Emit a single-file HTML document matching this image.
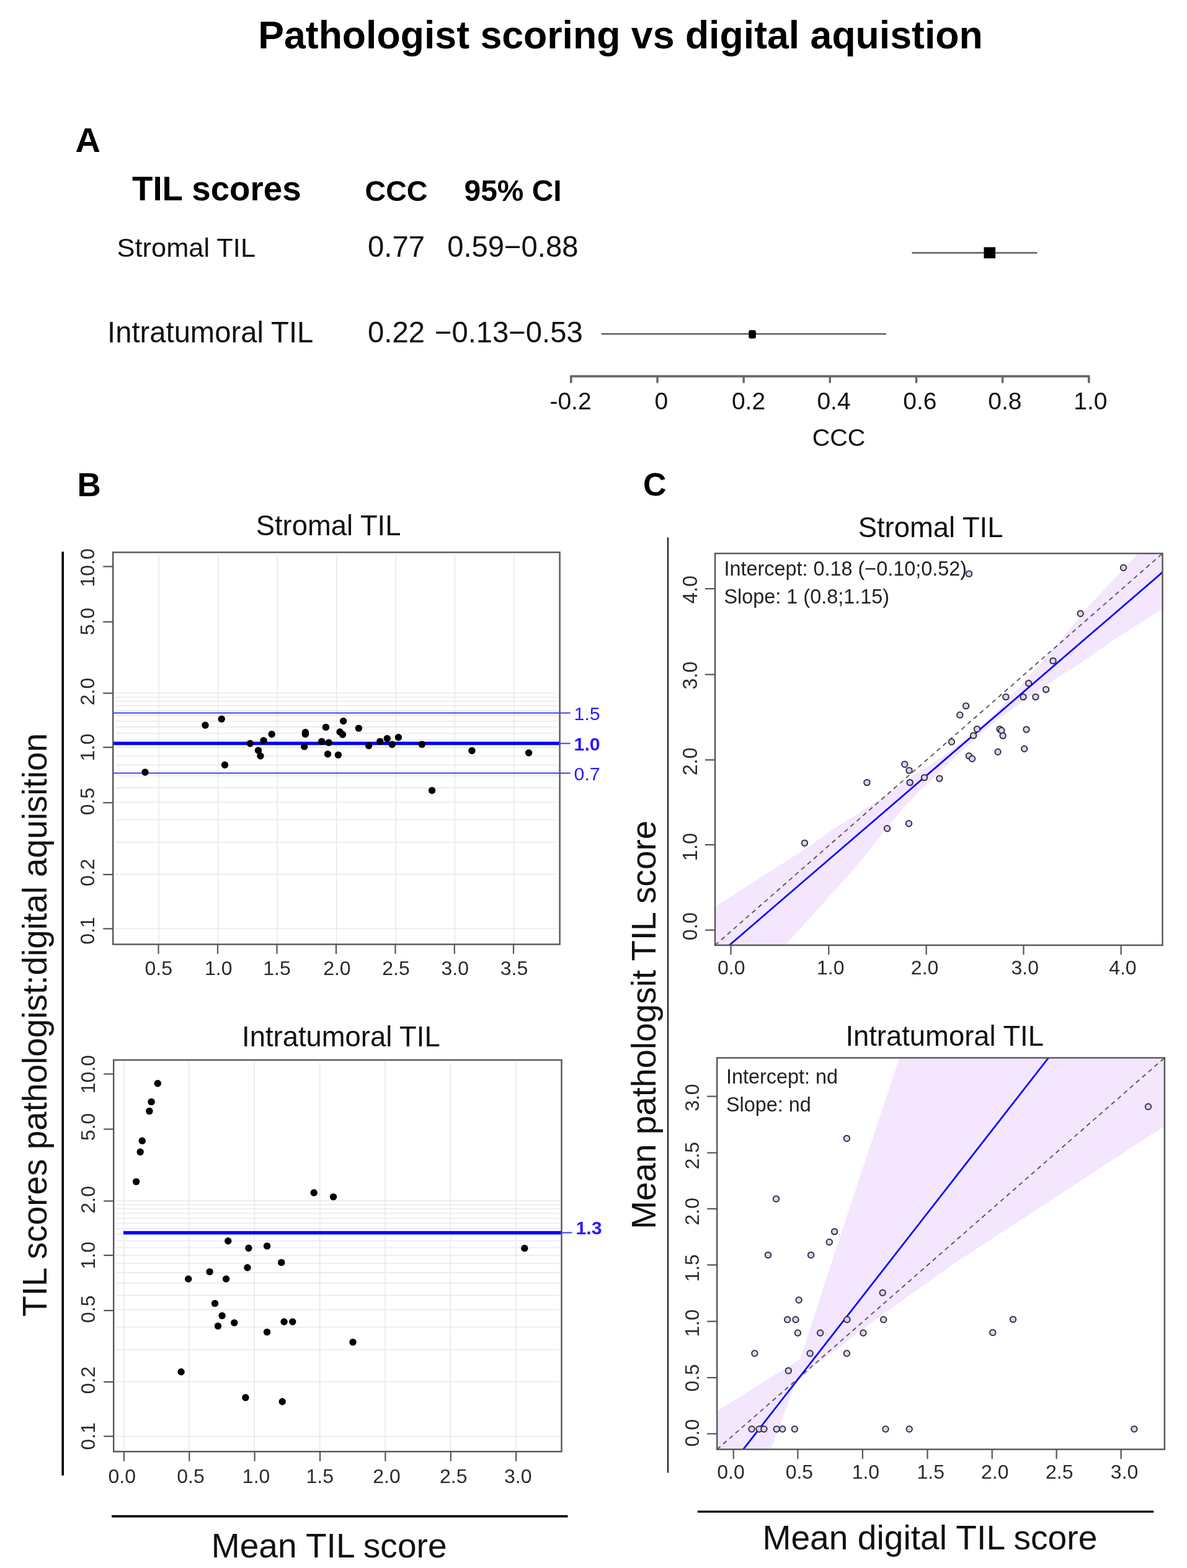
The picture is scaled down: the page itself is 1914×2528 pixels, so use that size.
<!DOCTYPE html>
<html lang="en">
<head>
<meta charset="utf-8">
<title>Pathologist scoring vs digital aquistion</title>
<style>
html,body{margin:0;padding:0;background:#fff;}
body{width:1914px;height:2528px;overflow:hidden;}
svg{display:block;font-family:"Liberation Sans", sans-serif;}
text{white-space:pre;}
</style>
</head>
<body>
<svg width="1914" height="2528" viewBox="0 0 1914 2528">
<rect x="0" y="0" width="1914" height="2528" fill="#ffffff"/>
<text x="1000.5" y="78.3" font-size="62.6" font-weight="bold" text-anchor="middle" fill="#000">Pathologist scoring vs digital aquistion</text>
<text x="121.5" y="245.3" font-size="56" font-weight="bold" text-anchor="start" fill="#000">A</text>
<text x="349.3" y="323.2" font-size="54.7" font-weight="bold" text-anchor="middle" fill="#000">TIL scores</text>
<text x="639" y="324.2" font-size="46.7" font-weight="bold" text-anchor="middle" fill="#000">CCC</text>
<text x="827.1" y="324" font-size="47.9" font-weight="bold" text-anchor="middle" fill="#000">95% CI</text>
<text x="300.3" y="414" font-size="43.4" font-weight="normal" text-anchor="middle" fill="#111">Stromal TIL</text>
<text x="339.2" y="552" font-size="47.2" font-weight="normal" text-anchor="middle" fill="#111">Intratumoral TIL</text>
<text x="639.1" y="414" font-size="47.3" font-weight="normal" text-anchor="middle" fill="#111">0.77</text>
<text x="826.8" y="414" font-size="47.2" font-weight="normal" text-anchor="middle" fill="#111">0.59−0.88</text>
<text x="639.1" y="552" font-size="47.3" font-weight="normal" text-anchor="middle" fill="#111">0.22</text>
<text x="820.3" y="552" font-size="47.2" font-weight="normal" text-anchor="middle" fill="#111">−0.13−0.53</text>
<line x1="1470.5" y1="407.7" x2="1672.3" y2="407.7" stroke="#6a6a6a" stroke-width="2.8"/>
<rect x="1586.5" y="398.5" width="18.6" height="18" fill="#000"/>
<line x1="969.5" y1="538.4" x2="1428.8" y2="538.4" stroke="#6a6a6a" stroke-width="2.8"/>
<rect x="1207.3" y="532.2" width="11.6" height="13.6" rx="3" fill="#000"/>
<path d="M920.8 617.6 V606.6 H1755.8 V617.6" fill="none" stroke="#666" stroke-width="3.6" stroke-linejoin="round"/>
<line x1="1060.0" y1="606.6" x2="1060.0" y2="617.6" stroke="#666" stroke-width="3.4"/>
<line x1="1199.2" y1="606.6" x2="1199.2" y2="617.6" stroke="#666" stroke-width="3.4"/>
<line x1="1338.3" y1="606.6" x2="1338.3" y2="617.6" stroke="#666" stroke-width="3.4"/>
<line x1="1477.5" y1="606.6" x2="1477.5" y2="617.6" stroke="#666" stroke-width="3.4"/>
<line x1="1616.6" y1="606.6" x2="1616.6" y2="617.6" stroke="#666" stroke-width="3.4"/>
<text x="920" y="660.1" font-size="39" font-weight="normal" text-anchor="middle" fill="#111">-0.2</text>
<text x="1066.3" y="660.1" font-size="39" font-weight="normal" text-anchor="middle" fill="#111">0</text>
<text x="1207" y="660.1" font-size="39" font-weight="normal" text-anchor="middle" fill="#111">0.2</text>
<text x="1344.5" y="660.1" font-size="39" font-weight="normal" text-anchor="middle" fill="#111">0.4</text>
<text x="1483.3" y="660.1" font-size="39" font-weight="normal" text-anchor="middle" fill="#111">0.6</text>
<text x="1620.3" y="660.1" font-size="39" font-weight="normal" text-anchor="middle" fill="#111">0.8</text>
<text x="1758.4" y="660.1" font-size="39" font-weight="normal" text-anchor="middle" fill="#111">1.0</text>
<text x="1352.5" y="718.8" font-size="39.5" font-weight="normal" text-anchor="middle" fill="#111">CCC</text>
<text x="124.5" y="800.2" font-size="53" font-weight="bold" text-anchor="start" fill="#000">B</text>
<text x="1037" y="799.2" font-size="52" font-weight="bold" text-anchor="start" fill="#000">C</text>
<line x1="256.2" y1="893.5" x2="256.2" y2="1521.5" stroke="#e9e9e9" stroke-width="1.6"/>
<line x1="351.7" y1="893.5" x2="351.7" y2="1521.5" stroke="#e9e9e9" stroke-width="1.6"/>
<line x1="447.2" y1="893.5" x2="447.2" y2="1521.5" stroke="#e9e9e9" stroke-width="1.6"/>
<line x1="542.7" y1="893.5" x2="542.7" y2="1521.5" stroke="#e9e9e9" stroke-width="1.6"/>
<line x1="638.2" y1="893.5" x2="638.2" y2="1521.5" stroke="#e9e9e9" stroke-width="1.6"/>
<line x1="733.5" y1="893.5" x2="733.5" y2="1521.5" stroke="#e9e9e9" stroke-width="1.6"/>
<line x1="828.7" y1="893.5" x2="828.7" y2="1521.5" stroke="#e9e9e9" stroke-width="1.6"/>
<line x1="186.2" y1="1497.3" x2="899.6" y2="1497.3" stroke="#e9e9e9" stroke-width="1.6"/>
<line x1="186.2" y1="1409.4" x2="899.6" y2="1409.4" stroke="#e9e9e9" stroke-width="1.6"/>
<line x1="186.2" y1="1358.0" x2="899.6" y2="1358.0" stroke="#e9e9e9" stroke-width="1.6"/>
<line x1="186.2" y1="1321.5" x2="899.6" y2="1321.5" stroke="#e9e9e9" stroke-width="1.6"/>
<line x1="186.2" y1="1293.2" x2="899.6" y2="1293.2" stroke="#e9e9e9" stroke-width="1.6"/>
<line x1="186.2" y1="1270.1" x2="899.6" y2="1270.1" stroke="#e9e9e9" stroke-width="1.6"/>
<line x1="186.2" y1="1250.6" x2="899.6" y2="1250.6" stroke="#e9e9e9" stroke-width="1.6"/>
<line x1="186.2" y1="1233.6" x2="899.6" y2="1233.6" stroke="#e9e9e9" stroke-width="1.6"/>
<line x1="186.2" y1="1218.7" x2="899.6" y2="1218.7" stroke="#e9e9e9" stroke-width="1.6"/>
<line x1="186.2" y1="1205.3" x2="899.6" y2="1205.3" stroke="#e9e9e9" stroke-width="1.6"/>
<line x1="186.2" y1="1193.3" x2="899.6" y2="1193.3" stroke="#e9e9e9" stroke-width="1.6"/>
<line x1="186.2" y1="1182.2" x2="899.6" y2="1182.2" stroke="#e9e9e9" stroke-width="1.6"/>
<line x1="186.2" y1="1172.1" x2="899.6" y2="1172.1" stroke="#e9e9e9" stroke-width="1.6"/>
<line x1="186.2" y1="1162.7" x2="899.6" y2="1162.7" stroke="#e9e9e9" stroke-width="1.6"/>
<line x1="186.2" y1="1153.9" x2="899.6" y2="1153.9" stroke="#e9e9e9" stroke-width="1.6"/>
<line x1="186.2" y1="1145.8" x2="899.6" y2="1145.8" stroke="#e9e9e9" stroke-width="1.6"/>
<line x1="186.2" y1="1138.1" x2="899.6" y2="1138.1" stroke="#e9e9e9" stroke-width="1.6"/>
<line x1="186.2" y1="1130.8" x2="899.6" y2="1130.8" stroke="#e9e9e9" stroke-width="1.6"/>
<line x1="186.2" y1="1124.0" x2="899.6" y2="1124.0" stroke="#e9e9e9" stroke-width="1.6"/>
<line x1="186.2" y1="1117.5" x2="899.6" y2="1117.5" stroke="#e9e9e9" stroke-width="1.6"/>
<line x1="181.8" y1="1149.6" x2="919.6" y2="1149.6" stroke="#3c3cff" stroke-width="2"/>
<text x="925.6" y="1160.8999999999999" font-size="30.3" font-weight="normal" text-anchor="start" fill="#2a1aff">1.5</text>
<line x1="181.8" y1="1198.6" x2="902.6" y2="1198.6" stroke="#0000ff" stroke-width="5.5"/>
<line x1="902.6" y1="1198.6" x2="919.6" y2="1198.6" stroke="#3c3cff" stroke-width="2"/>
<text x="925.6" y="1209.8999999999999" font-size="30.3" font-weight="bold" text-anchor="start" fill="#2a1aff">1.0</text>
<line x1="181.8" y1="1246.4" x2="919.6" y2="1246.4" stroke="#3c3cff" stroke-width="2"/>
<text x="925.6" y="1257.7" font-size="30.3" font-weight="normal" text-anchor="start" fill="#2a1aff">0.7</text>
<circle cx="234" cy="1245" r="5.7" fill="#000"/>
<circle cx="331" cy="1169.3" r="5.7" fill="#000"/>
<circle cx="357.3" cy="1159.2" r="5.7" fill="#000"/>
<circle cx="362.5" cy="1233.3" r="5.7" fill="#000"/>
<circle cx="403.3" cy="1198.6" r="5.7" fill="#000"/>
<circle cx="416.5" cy="1209.9" r="5.7" fill="#000"/>
<circle cx="420" cy="1218.7" r="5.7" fill="#000"/>
<circle cx="425.1" cy="1193.9" r="5.7" fill="#000"/>
<circle cx="438.2" cy="1183.8" r="5.7" fill="#000"/>
<circle cx="492.4" cy="1180.7" r="5.7" fill="#000"/>
<circle cx="492.4" cy="1183.6" r="5.7" fill="#000"/>
<circle cx="490.7" cy="1203.6" r="5.7" fill="#000"/>
<circle cx="518.7" cy="1195.5" r="5.7" fill="#000"/>
<circle cx="525.4" cy="1172.4" r="5.7" fill="#000"/>
<circle cx="530.1" cy="1197.2" r="5.7" fill="#000"/>
<circle cx="528.5" cy="1215.8" r="5.7" fill="#000"/>
<circle cx="545.4" cy="1217.1" r="5.7" fill="#000"/>
<circle cx="553.6" cy="1162.5" r="5.7" fill="#000"/>
<circle cx="548" cy="1180" r="5.7" fill="#000"/>
<circle cx="552.5" cy="1184.3" r="5.7" fill="#000"/>
<circle cx="578.4" cy="1174.1" r="5.7" fill="#000"/>
<circle cx="594.6" cy="1202.2" r="5.7" fill="#000"/>
<circle cx="612.8" cy="1195.4" r="5.7" fill="#000"/>
<circle cx="624.3" cy="1190.6" r="5.7" fill="#000"/>
<circle cx="632.2" cy="1200.3" r="5.7" fill="#000"/>
<circle cx="642.4" cy="1188.8" r="5.7" fill="#000"/>
<circle cx="680.3" cy="1200.1" r="5.7" fill="#000"/>
<circle cx="696.6" cy="1274.4" r="5.7" fill="#000"/>
<circle cx="760.9" cy="1210.3" r="5.7" fill="#000"/>
<circle cx="852.6" cy="1213.7" r="5.7" fill="#000"/>
<rect x="182.2" y="890.5" width="720.4000000000001" height="632.0" fill="none" stroke="#555" stroke-width="2.4"/>
<line x1="166.2" y1="913.4" x2="182.2" y2="913.4" stroke="#555" stroke-width="2.2"/>
<text x="152.2" y="915.3" font-size="32" font-weight="normal" text-anchor="middle" fill="#2a2a2a" transform="rotate(-90 152.2 915.3)">10.0</text>
<line x1="166.2" y1="1002.6" x2="182.2" y2="1002.6" stroke="#555" stroke-width="2.2"/>
<text x="152.2" y="1001.9" font-size="32" font-weight="normal" text-anchor="middle" fill="#2a2a2a" transform="rotate(-90 152.2 1001.9)">5.0</text>
<line x1="166.2" y1="1117.6" x2="182.2" y2="1117.6" stroke="#555" stroke-width="2.2"/>
<text x="152.2" y="1115.0" font-size="32" font-weight="normal" text-anchor="middle" fill="#2a2a2a" transform="rotate(-90 152.2 1115.0)">2.0</text>
<line x1="166.2" y1="1204.9" x2="182.2" y2="1204.9" stroke="#555" stroke-width="2.2"/>
<text x="152.2" y="1205.0" font-size="32" font-weight="normal" text-anchor="middle" fill="#2a2a2a" transform="rotate(-90 152.2 1205.0)">1.0</text>
<line x1="166.2" y1="1294.2" x2="182.2" y2="1294.2" stroke="#555" stroke-width="2.2"/>
<text x="152.2" y="1292.1000000000001" font-size="32" font-weight="normal" text-anchor="middle" fill="#2a2a2a" transform="rotate(-90 152.2 1292.1000000000001)">0.5</text>
<line x1="166.2" y1="1410" x2="182.2" y2="1410" stroke="#555" stroke-width="2.2"/>
<text x="152.2" y="1406.8" font-size="32" font-weight="normal" text-anchor="middle" fill="#2a2a2a" transform="rotate(-90 152.2 1406.8)">0.2</text>
<line x1="166.2" y1="1497.3" x2="182.2" y2="1497.3" stroke="#555" stroke-width="2.2"/>
<text x="152.2" y="1500.3999999999999" font-size="32" font-weight="normal" text-anchor="middle" fill="#2a2a2a" transform="rotate(-90 152.2 1500.3999999999999)">0.1</text>
<line x1="255.5" y1="1522.5" x2="255.5" y2="1538.0" stroke="#555" stroke-width="2.2"/>
<text x="255.8" y="1571.5" font-size="32" font-weight="normal" text-anchor="middle" fill="#2a2a2a">0.5</text>
<line x1="351" y1="1522.5" x2="351" y2="1538.0" stroke="#555" stroke-width="2.2"/>
<text x="352.2" y="1571.5" font-size="32" font-weight="normal" text-anchor="middle" fill="#2a2a2a">1.0</text>
<line x1="446.5" y1="1522.5" x2="446.5" y2="1538.0" stroke="#555" stroke-width="2.2"/>
<text x="446.5" y="1571.5" font-size="32" font-weight="normal" text-anchor="middle" fill="#2a2a2a">1.5</text>
<line x1="542" y1="1522.5" x2="542" y2="1538.0" stroke="#555" stroke-width="2.2"/>
<text x="543.4" y="1571.5" font-size="32" font-weight="normal" text-anchor="middle" fill="#2a2a2a">2.0</text>
<line x1="637.5" y1="1522.5" x2="637.5" y2="1538.0" stroke="#555" stroke-width="2.2"/>
<text x="638.5" y="1571.5" font-size="32" font-weight="normal" text-anchor="middle" fill="#2a2a2a">2.5</text>
<line x1="732.8" y1="1522.5" x2="732.8" y2="1538.0" stroke="#555" stroke-width="2.2"/>
<text x="733.8" y="1571.5" font-size="32" font-weight="normal" text-anchor="middle" fill="#2a2a2a">3.0</text>
<line x1="828" y1="1522.5" x2="828" y2="1538.0" stroke="#555" stroke-width="2.2"/>
<text x="829" y="1571.5" font-size="32" font-weight="normal" text-anchor="middle" fill="#2a2a2a">3.5</text>
<text x="529.6" y="863" font-size="45.4" font-weight="normal" text-anchor="middle" fill="#111">Stromal TIL</text>
<line x1="199.7" y1="1712" x2="199.7" y2="2339.3" stroke="#e9e9e9" stroke-width="1.6"/>
<line x1="305.0" y1="1712" x2="305.0" y2="2339.3" stroke="#e9e9e9" stroke-width="1.6"/>
<line x1="410.3" y1="1712" x2="410.3" y2="2339.3" stroke="#e9e9e9" stroke-width="1.6"/>
<line x1="515.7" y1="1712" x2="515.7" y2="2339.3" stroke="#e9e9e9" stroke-width="1.6"/>
<line x1="621.1" y1="1712" x2="621.1" y2="2339.3" stroke="#e9e9e9" stroke-width="1.6"/>
<line x1="726.5" y1="1712" x2="726.5" y2="2339.3" stroke="#e9e9e9" stroke-width="1.6"/>
<line x1="831.9000000000001" y1="1712" x2="831.9000000000001" y2="2339.3" stroke="#e9e9e9" stroke-width="1.6"/>
<line x1="187.2" y1="2315.7" x2="902.5" y2="2315.7" stroke="#e9e9e9" stroke-width="1.6"/>
<line x1="187.2" y1="2227.8" x2="902.5" y2="2227.8" stroke="#e9e9e9" stroke-width="1.6"/>
<line x1="187.2" y1="2176.3" x2="902.5" y2="2176.3" stroke="#e9e9e9" stroke-width="1.6"/>
<line x1="187.2" y1="2139.8" x2="902.5" y2="2139.8" stroke="#e9e9e9" stroke-width="1.6"/>
<line x1="187.2" y1="2111.5" x2="902.5" y2="2111.5" stroke="#e9e9e9" stroke-width="1.6"/>
<line x1="187.2" y1="2088.4" x2="902.5" y2="2088.4" stroke="#e9e9e9" stroke-width="1.6"/>
<line x1="187.2" y1="2068.8" x2="902.5" y2="2068.8" stroke="#e9e9e9" stroke-width="1.6"/>
<line x1="187.2" y1="2051.9" x2="902.5" y2="2051.9" stroke="#e9e9e9" stroke-width="1.6"/>
<line x1="187.2" y1="2037.0" x2="902.5" y2="2037.0" stroke="#e9e9e9" stroke-width="1.6"/>
<line x1="187.2" y1="2023.6" x2="902.5" y2="2023.6" stroke="#e9e9e9" stroke-width="1.6"/>
<line x1="187.2" y1="2011.5" x2="902.5" y2="2011.5" stroke="#e9e9e9" stroke-width="1.6"/>
<line x1="187.2" y1="2000.5" x2="902.5" y2="2000.5" stroke="#e9e9e9" stroke-width="1.6"/>
<line x1="187.2" y1="1990.3" x2="902.5" y2="1990.3" stroke="#e9e9e9" stroke-width="1.6"/>
<line x1="187.2" y1="1980.9" x2="902.5" y2="1980.9" stroke="#e9e9e9" stroke-width="1.6"/>
<line x1="187.2" y1="1972.2" x2="902.5" y2="1972.2" stroke="#e9e9e9" stroke-width="1.6"/>
<line x1="187.2" y1="1964.0" x2="902.5" y2="1964.0" stroke="#e9e9e9" stroke-width="1.6"/>
<line x1="187.2" y1="1956.3" x2="902.5" y2="1956.3" stroke="#e9e9e9" stroke-width="1.6"/>
<line x1="187.2" y1="1949.0" x2="902.5" y2="1949.0" stroke="#e9e9e9" stroke-width="1.6"/>
<line x1="187.2" y1="1942.2" x2="902.5" y2="1942.2" stroke="#e9e9e9" stroke-width="1.6"/>
<line x1="187.2" y1="1935.7" x2="902.5" y2="1935.7" stroke="#e9e9e9" stroke-width="1.6"/>
<line x1="199" y1="1987.4" x2="905.5" y2="1987.4" stroke="#0000ff" stroke-width="5.5"/>
<line x1="905.5" y1="1987.4" x2="922.5" y2="1987.4" stroke="#3c3cff" stroke-width="2"/>
<text x="928.5" y="1990.4" font-size="30.3" font-weight="bold" text-anchor="start" fill="#2a1aff">1.3</text>
<circle cx="254.3" cy="1746.7" r="5.7" fill="#000"/>
<circle cx="244.1" cy="1776.4" r="5.7" fill="#000"/>
<circle cx="240.9" cy="1791.4" r="5.7" fill="#000"/>
<circle cx="229.3" cy="1839.2" r="5.7" fill="#000"/>
<circle cx="226.2" cy="1857.3" r="5.7" fill="#000"/>
<circle cx="219.6" cy="1905.1" r="5.7" fill="#000"/>
<circle cx="506.2" cy="1923" r="5.7" fill="#000"/>
<circle cx="537.5" cy="1929.6" r="5.7" fill="#000"/>
<circle cx="367.8" cy="2000.7" r="5.7" fill="#000"/>
<circle cx="400.9" cy="2012.3" r="5.7" fill="#000"/>
<circle cx="430.6" cy="2008.9" r="5.7" fill="#000"/>
<circle cx="453.7" cy="2035.4" r="5.7" fill="#000"/>
<circle cx="399" cy="2043.8" r="5.7" fill="#000"/>
<circle cx="338.1" cy="2050.4" r="5.7" fill="#000"/>
<circle cx="303.7" cy="2062" r="5.7" fill="#000"/>
<circle cx="364.6" cy="2062" r="5.7" fill="#000"/>
<circle cx="346.5" cy="2101.4" r="5.7" fill="#000"/>
<circle cx="358.1" cy="2121.3" r="5.7" fill="#000"/>
<circle cx="351.5" cy="2137.9" r="5.7" fill="#000"/>
<circle cx="377.8" cy="2132.6" r="5.7" fill="#000"/>
<circle cx="458.1" cy="2131" r="5.7" fill="#000"/>
<circle cx="471.8" cy="2131" r="5.7" fill="#000"/>
<circle cx="430.6" cy="2147.6" r="5.7" fill="#000"/>
<circle cx="569" cy="2163.9" r="5.7" fill="#000"/>
<circle cx="292.1" cy="2211.7" r="5.7" fill="#000"/>
<circle cx="395.9" cy="2253.2" r="5.7" fill="#000"/>
<circle cx="455.2" cy="2259.8" r="5.7" fill="#000"/>
<circle cx="845.8" cy="2012.5" r="5.7" fill="#000"/>
<rect x="183.2" y="1709" width="722.3" height="631.3000000000002" fill="none" stroke="#555" stroke-width="2.4"/>
<line x1="167.2" y1="1731.5" x2="183.2" y2="1731.5" stroke="#555" stroke-width="2.2"/>
<text x="153.2" y="1732.2" font-size="32" font-weight="normal" text-anchor="middle" fill="#2a2a2a" transform="rotate(-90 153.2 1732.2)">10.0</text>
<line x1="167.2" y1="1820.5" x2="183.2" y2="1820.5" stroke="#555" stroke-width="2.2"/>
<text x="153.2" y="1816.9" font-size="32" font-weight="normal" text-anchor="middle" fill="#2a2a2a" transform="rotate(-90 153.2 1816.9)">5.0</text>
<line x1="167.2" y1="1936.4" x2="183.2" y2="1936.4" stroke="#555" stroke-width="2.2"/>
<text x="153.2" y="1934.3000000000002" font-size="32" font-weight="normal" text-anchor="middle" fill="#2a2a2a" transform="rotate(-90 153.2 1934.3000000000002)">2.0</text>
<line x1="167.2" y1="2023.9" x2="183.2" y2="2023.9" stroke="#555" stroke-width="2.2"/>
<text x="153.2" y="2024.0" font-size="32" font-weight="normal" text-anchor="middle" fill="#2a2a2a" transform="rotate(-90 153.2 2024.0)">1.0</text>
<line x1="167.2" y1="2112.9" x2="183.2" y2="2112.9" stroke="#555" stroke-width="2.2"/>
<text x="153.2" y="2110.8" font-size="32" font-weight="normal" text-anchor="middle" fill="#2a2a2a" transform="rotate(-90 153.2 2110.8)">0.5</text>
<line x1="167.2" y1="2228" x2="183.2" y2="2228" stroke="#555" stroke-width="2.2"/>
<text x="153.2" y="2225.3" font-size="32" font-weight="normal" text-anchor="middle" fill="#2a2a2a" transform="rotate(-90 153.2 2225.3)">0.2</text>
<line x1="167.2" y1="2315.7" x2="183.2" y2="2315.7" stroke="#555" stroke-width="2.2"/>
<text x="153.2" y="2315.5" font-size="32" font-weight="normal" text-anchor="middle" fill="#2a2a2a" transform="rotate(-90 153.2 2315.5)">0.1</text>
<line x1="200" y1="2340.3" x2="200" y2="2355.8" stroke="#555" stroke-width="2.2"/>
<text x="196.8" y="2390.8" font-size="32" font-weight="normal" text-anchor="middle" fill="#2a2a2a">0.0</text>
<line x1="305.3" y1="2340.3" x2="305.3" y2="2355.8" stroke="#555" stroke-width="2.2"/>
<text x="307.5" y="2390.8" font-size="32" font-weight="normal" text-anchor="middle" fill="#2a2a2a">0.5</text>
<line x1="410.6" y1="2340.3" x2="410.6" y2="2355.8" stroke="#555" stroke-width="2.2"/>
<text x="413.1" y="2390.8" font-size="32" font-weight="normal" text-anchor="middle" fill="#2a2a2a">1.0</text>
<line x1="516" y1="2340.3" x2="516" y2="2355.8" stroke="#555" stroke-width="2.2"/>
<text x="515.7" y="2390.8" font-size="32" font-weight="normal" text-anchor="middle" fill="#2a2a2a">1.5</text>
<line x1="621.4" y1="2340.3" x2="621.4" y2="2355.8" stroke="#555" stroke-width="2.2"/>
<text x="623.5" y="2390.8" font-size="32" font-weight="normal" text-anchor="middle" fill="#2a2a2a">2.0</text>
<line x1="726.8" y1="2340.3" x2="726.8" y2="2355.8" stroke="#555" stroke-width="2.2"/>
<text x="731.1999999999999" y="2390.8" font-size="32" font-weight="normal" text-anchor="middle" fill="#2a2a2a">2.5</text>
<line x1="832.2" y1="2340.3" x2="832.2" y2="2355.8" stroke="#555" stroke-width="2.2"/>
<text x="835.3000000000001" y="2390.8" font-size="32" font-weight="normal" text-anchor="middle" fill="#2a2a2a">3.0</text>
<text x="549.9" y="1686.6" font-size="45.4" font-weight="normal" text-anchor="middle" fill="#111">Intratumoral TIL</text>
<line x1="101.2" y1="889.5" x2="101.2" y2="2378.8" stroke="#000" stroke-width="3.6"/>
<text x="74.9" y="1652.4" font-size="54.9" font-weight="normal" text-anchor="middle" fill="#111" transform="rotate(-90 74.9 1652.4)">TIL scores pathologist:digital aquisition</text>
<line x1="180.1" y1="2444.7" x2="915.5" y2="2444.7" stroke="#000" stroke-width="3.8"/>
<text x="530.7" y="2510.6" font-size="55.1" font-weight="normal" text-anchor="middle" fill="#111">Mean TIL score</text>
<clipPath id="clip1"><rect x="1153" y="892.3" width="721.5" height="631.6000000000001"/></clipPath>
<g clip-path="url(#clip1)">
<polygon points="1153,1461.8 1300,1367.8 1348,1334.1 1384,1311.2 1419,1288.0 1455,1262.8 1479,1246.1 1500,1233.5 1526,1215.2 1579,1173.0 1610,1144.3 1633,1119.5 1669,1079.5 1704,1041.0 1752,981.1 1835,892.6 1874.5,847.6 1874.5,981.6 1799,1029.6 1740,1070.4 1695,1099.1 1669,1116.5 1633,1142.5 1610,1159.3 1579,1185.0 1526,1234.7 1500,1259.5 1479,1279.1 1455,1303.8 1431,1333.2 1407.5,1362.9 1376.4,1401.7 1267,1522.7 1153,1655.8" fill="#f3e6fd"/>
<line x1="1153" y1="1523.9" x2="1874.5" y2="892.3" stroke="#505050" stroke-width="1.8" stroke-dasharray="7.2 6"/>
<line x1="1153" y1="1543.8" x2="1874.5" y2="922.6" stroke="#0000ff" stroke-width="2.7"/>
</g>
<circle cx="1297.4" cy="1359.1" r="4.7" fill="#ddd0fa" stroke="#33303a" stroke-width="2"/>
<circle cx="1397.9" cy="1261.6" r="4.7" fill="#ddd0fa" stroke="#33303a" stroke-width="2"/>
<circle cx="1458.8" cy="1232.3" r="4.7" fill="#ddd0fa" stroke="#33303a" stroke-width="2"/>
<circle cx="1466" cy="1242.1" r="4.7" fill="#ddd0fa" stroke="#33303a" stroke-width="2"/>
<circle cx="1467.2" cy="1261.6" r="4.7" fill="#ddd0fa" stroke="#33303a" stroke-width="2"/>
<circle cx="1490.5" cy="1253.6" r="4.7" fill="#ddd0fa" stroke="#33303a" stroke-width="2"/>
<circle cx="1514.9" cy="1255.1" r="4.7" fill="#ddd0fa" stroke="#33303a" stroke-width="2"/>
<circle cx="1430.6" cy="1335.7" r="4.7" fill="#ddd0fa" stroke="#33303a" stroke-width="2"/>
<circle cx="1465.5" cy="1327.8" r="4.7" fill="#ddd0fa" stroke="#33303a" stroke-width="2"/>
<circle cx="1534.4" cy="1196" r="4.7" fill="#ddd0fa" stroke="#33303a" stroke-width="2"/>
<circle cx="1698" cy="1065.4" r="4.7" fill="#ddd0fa" stroke="#33303a" stroke-width="2"/>
<circle cx="1658.6" cy="1101.6" r="4.7" fill="#ddd0fa" stroke="#33303a" stroke-width="2"/>
<circle cx="1686.6" cy="1111.6" r="4.7" fill="#ddd0fa" stroke="#33303a" stroke-width="2"/>
<circle cx="1621.9" cy="1123.6" r="4.7" fill="#ddd0fa" stroke="#33303a" stroke-width="2"/>
<circle cx="1650" cy="1123.6" r="4.7" fill="#ddd0fa" stroke="#33303a" stroke-width="2"/>
<circle cx="1669.9" cy="1123.6" r="4.7" fill="#ddd0fa" stroke="#33303a" stroke-width="2"/>
<circle cx="1557.6" cy="1138.1" r="4.7" fill="#ddd0fa" stroke="#33303a" stroke-width="2"/>
<circle cx="1547.8" cy="1152.7" r="4.7" fill="#ddd0fa" stroke="#33303a" stroke-width="2"/>
<circle cx="1575.5" cy="1175.4" r="4.7" fill="#ddd0fa" stroke="#33303a" stroke-width="2"/>
<circle cx="1569.6" cy="1185.9" r="4.7" fill="#ddd0fa" stroke="#33303a" stroke-width="2"/>
<circle cx="1612.1" cy="1175.6" r="4.7" fill="#ddd0fa" stroke="#33303a" stroke-width="2"/>
<circle cx="1614.9" cy="1177.8" r="4.7" fill="#ddd0fa" stroke="#33303a" stroke-width="2"/>
<circle cx="1617.1" cy="1186.1" r="4.7" fill="#ddd0fa" stroke="#33303a" stroke-width="2"/>
<circle cx="1655" cy="1176.1" r="4.7" fill="#ddd0fa" stroke="#33303a" stroke-width="2"/>
<circle cx="1562.4" cy="1218.6" r="4.7" fill="#ddd0fa" stroke="#33303a" stroke-width="2"/>
<circle cx="1567.6" cy="1223.2" r="4.7" fill="#ddd0fa" stroke="#33303a" stroke-width="2"/>
<circle cx="1609" cy="1212.2" r="4.7" fill="#ddd0fa" stroke="#33303a" stroke-width="2"/>
<circle cx="1651.7" cy="1207.2" r="4.7" fill="#ddd0fa" stroke="#33303a" stroke-width="2"/>
<circle cx="1562.5" cy="925.1" r="4.7" fill="#ddd0fa" stroke="#33303a" stroke-width="2"/>
<circle cx="1811.5" cy="915.2" r="4.7" fill="#ddd0fa" stroke="#33303a" stroke-width="2"/>
<circle cx="1742.2" cy="989.3" r="4.7" fill="#ddd0fa" stroke="#33303a" stroke-width="2"/>
<rect x="1153" y="892.3" width="721.5" height="631.6000000000001" fill="none" stroke="#555" stroke-width="2.4"/>
<line x1="1137" y1="949.2" x2="1153" y2="949.2" stroke="#555" stroke-width="2.2"/>
<text x="1123.7" y="950.5" font-size="32.6" font-weight="normal" text-anchor="middle" fill="#2a2a2a" transform="rotate(-90 1123.7 950.5)">4.0</text>
<line x1="1137" y1="1087.5" x2="1153" y2="1087.5" stroke="#555" stroke-width="2.2"/>
<text x="1123.7" y="1089.0" font-size="32.6" font-weight="normal" text-anchor="middle" fill="#2a2a2a" transform="rotate(-90 1123.7 1089.0)">3.0</text>
<line x1="1137" y1="1225.2" x2="1153" y2="1225.2" stroke="#555" stroke-width="2.2"/>
<text x="1123.7" y="1227.7" font-size="32.6" font-weight="normal" text-anchor="middle" fill="#2a2a2a" transform="rotate(-90 1123.7 1227.7)">2.0</text>
<line x1="1137" y1="1362" x2="1153" y2="1362" stroke="#555" stroke-width="2.2"/>
<text x="1123.7" y="1365.5" font-size="32.6" font-weight="normal" text-anchor="middle" fill="#2a2a2a" transform="rotate(-90 1123.7 1365.5)">1.0</text>
<line x1="1137" y1="1499.5" x2="1153" y2="1499.5" stroke="#555" stroke-width="2.2"/>
<text x="1123.7" y="1493.5" font-size="32.6" font-weight="normal" text-anchor="middle" fill="#2a2a2a" transform="rotate(-90 1123.7 1493.5)">0.0</text>
<line x1="1178.5" y1="1523.9" x2="1178.5" y2="1539.4" stroke="#555" stroke-width="2.2"/>
<text x="1179.2" y="1571.2" font-size="32" font-weight="normal" text-anchor="middle" fill="#2a2a2a">0.0</text>
<line x1="1336.3" y1="1523.9" x2="1336.3" y2="1539.4" stroke="#555" stroke-width="2.2"/>
<text x="1339.3" y="1571.2" font-size="32" font-weight="normal" text-anchor="middle" fill="#2a2a2a">1.0</text>
<line x1="1493.6" y1="1523.9" x2="1493.6" y2="1539.4" stroke="#555" stroke-width="2.2"/>
<text x="1491.1" y="1571.2" font-size="32" font-weight="normal" text-anchor="middle" fill="#2a2a2a">2.0</text>
<line x1="1650.5" y1="1523.9" x2="1650.5" y2="1539.4" stroke="#555" stroke-width="2.2"/>
<text x="1652.8" y="1571.2" font-size="32" font-weight="normal" text-anchor="middle" fill="#2a2a2a">3.0</text>
<line x1="1807.6" y1="1523.9" x2="1807.6" y2="1539.4" stroke="#555" stroke-width="2.2"/>
<text x="1810.3999999999999" y="1571.2" font-size="32" font-weight="normal" text-anchor="middle" fill="#2a2a2a">4.0</text>
<text x="1500.6" y="865.5" font-size="45.4" font-weight="normal" text-anchor="middle" fill="#111">Stromal TIL</text>
<text x="1167.5" y="928.3" font-size="32.4" font-weight="normal" text-anchor="start" fill="#222">Intercept: 0.18 (−0.10;0.52)</text>
<text x="1167.5" y="973" font-size="32.4" font-weight="normal" text-anchor="start" fill="#222">Slope: 1 (0.8;1.15)</text>
<clipPath id="clip2"><rect x="1156.2" y="1705.5" width="721.5999999999999" height="631.1999999999998"/></clipPath>
<g clip-path="url(#clip2)">
<polygon points="1156.2,2275 1290.4,2191 1352.5,2000 1450.4,1705.5 1877.8,1705.5 1877.8,1815.4 1540,2036 1400,2136 1310,2205 1283,2230 1242.7,2336.7 1156.2,2336.7" fill="#f3e6fd"/>
<line x1="1156.2" y1="2336.7" x2="1877.8" y2="1705.5" stroke="#505050" stroke-width="1.8" stroke-dasharray="7.2 6"/>
<line x1="1198.5" y1="2336.7" x2="1690.6" y2="1705.5" stroke="#0000ff" stroke-width="2.7"/>
</g>
<circle cx="1365.4" cy="1835.4" r="4.7" fill="#ddd0fa" stroke="#33303a" stroke-width="2"/>
<circle cx="1251.5" cy="1932.9" r="4.7" fill="#ddd0fa" stroke="#33303a" stroke-width="2"/>
<circle cx="1345.6" cy="1985.6" r="4.7" fill="#ddd0fa" stroke="#33303a" stroke-width="2"/>
<circle cx="1337.3" cy="2002.5" r="4.7" fill="#ddd0fa" stroke="#33303a" stroke-width="2"/>
<circle cx="1238.5" cy="2023.4" r="4.7" fill="#ddd0fa" stroke="#33303a" stroke-width="2"/>
<circle cx="1307.6" cy="2023.4" r="4.7" fill="#ddd0fa" stroke="#33303a" stroke-width="2"/>
<circle cx="1423.2" cy="2084.3" r="4.7" fill="#ddd0fa" stroke="#33303a" stroke-width="2"/>
<circle cx="1288.1" cy="2096" r="4.7" fill="#ddd0fa" stroke="#33303a" stroke-width="2"/>
<circle cx="1269.7" cy="2127.5" r="4.7" fill="#ddd0fa" stroke="#33303a" stroke-width="2"/>
<circle cx="1283" cy="2127.5" r="4.7" fill="#ddd0fa" stroke="#33303a" stroke-width="2"/>
<circle cx="1365.9" cy="2127.5" r="4.7" fill="#ddd0fa" stroke="#33303a" stroke-width="2"/>
<circle cx="1424.7" cy="2127.5" r="4.7" fill="#ddd0fa" stroke="#33303a" stroke-width="2"/>
<circle cx="1286.4" cy="2149" r="4.7" fill="#ddd0fa" stroke="#33303a" stroke-width="2"/>
<circle cx="1322.7" cy="2149" r="4.7" fill="#ddd0fa" stroke="#33303a" stroke-width="2"/>
<circle cx="1391.9" cy="2149" r="4.7" fill="#ddd0fa" stroke="#33303a" stroke-width="2"/>
<circle cx="1216.9" cy="2182" r="4.7" fill="#ddd0fa" stroke="#33303a" stroke-width="2"/>
<circle cx="1306.2" cy="2182" r="4.7" fill="#ddd0fa" stroke="#33303a" stroke-width="2"/>
<circle cx="1365.4" cy="2182" r="4.7" fill="#ddd0fa" stroke="#33303a" stroke-width="2"/>
<circle cx="1271.3" cy="2209.9" r="4.7" fill="#ddd0fa" stroke="#33303a" stroke-width="2"/>
<circle cx="1212.1" cy="2304" r="4.7" fill="#ddd0fa" stroke="#33303a" stroke-width="2"/>
<circle cx="1224.1" cy="2304" r="4.7" fill="#ddd0fa" stroke="#33303a" stroke-width="2"/>
<circle cx="1231.9" cy="2304" r="4.7" fill="#ddd0fa" stroke="#33303a" stroke-width="2"/>
<circle cx="1252.2" cy="2304" r="4.7" fill="#ddd0fa" stroke="#33303a" stroke-width="2"/>
<circle cx="1261.8" cy="2304" r="4.7" fill="#ddd0fa" stroke="#33303a" stroke-width="2"/>
<circle cx="1281.4" cy="2304" r="4.7" fill="#ddd0fa" stroke="#33303a" stroke-width="2"/>
<circle cx="1428" cy="2304" r="4.7" fill="#ddd0fa" stroke="#33303a" stroke-width="2"/>
<circle cx="1466.2" cy="2304" r="4.7" fill="#ddd0fa" stroke="#33303a" stroke-width="2"/>
<circle cx="1600.8" cy="2148.4" r="4.7" fill="#ddd0fa" stroke="#33303a" stroke-width="2"/>
<circle cx="1633.5" cy="2127.1" r="4.7" fill="#ddd0fa" stroke="#33303a" stroke-width="2"/>
<circle cx="1828.9" cy="2303.9" r="4.7" fill="#ddd0fa" stroke="#33303a" stroke-width="2"/>
<circle cx="1851.5" cy="1784.2" r="4.7" fill="#ddd0fa" stroke="#33303a" stroke-width="2"/>
<rect x="1156.2" y="1705.5" width="721.5999999999999" height="631.1999999999998" fill="none" stroke="#555" stroke-width="2.4"/>
<line x1="1140.2" y1="1767.6" x2="1156.2" y2="1767.6" stroke="#555" stroke-width="2.2"/>
<text x="1126.8" y="1769.6" font-size="32" font-weight="normal" text-anchor="middle" fill="#2a2a2a" transform="rotate(-90 1126.8 1769.6)">3.0</text>
<line x1="1140.2" y1="1858.6" x2="1156.2" y2="1858.6" stroke="#555" stroke-width="2.2"/>
<text x="1126.8" y="1863.1" font-size="32" font-weight="normal" text-anchor="middle" fill="#2a2a2a" transform="rotate(-90 1126.8 1863.1)">2.5</text>
<line x1="1140.2" y1="1948.8" x2="1156.2" y2="1948.8" stroke="#555" stroke-width="2.2"/>
<text x="1126.8" y="1953.2" font-size="32" font-weight="normal" text-anchor="middle" fill="#2a2a2a" transform="rotate(-90 1126.8 1953.2)">2.0</text>
<line x1="1140.2" y1="2039.4" x2="1156.2" y2="2039.4" stroke="#555" stroke-width="2.2"/>
<text x="1126.8" y="2044.4" font-size="32" font-weight="normal" text-anchor="middle" fill="#2a2a2a" transform="rotate(-90 1126.8 2044.4)">1.5</text>
<line x1="1140.2" y1="2130.4" x2="1156.2" y2="2130.4" stroke="#555" stroke-width="2.2"/>
<text x="1126.8" y="2133.2000000000003" font-size="32" font-weight="normal" text-anchor="middle" fill="#2a2a2a" transform="rotate(-90 1126.8 2133.2000000000003)">1.0</text>
<line x1="1140.2" y1="2221.1" x2="1156.2" y2="2221.1" stroke="#555" stroke-width="2.2"/>
<text x="1126.8" y="2221.4" font-size="32" font-weight="normal" text-anchor="middle" fill="#2a2a2a" transform="rotate(-90 1126.8 2221.4)">0.5</text>
<line x1="1140.2" y1="2311.6" x2="1156.2" y2="2311.6" stroke="#555" stroke-width="2.2"/>
<text x="1126.8" y="2310.2" font-size="32" font-weight="normal" text-anchor="middle" fill="#2a2a2a" transform="rotate(-90 1126.8 2310.2)">0.0</text>
<line x1="1182.7" y1="2336.7" x2="1182.7" y2="2352.2" stroke="#555" stroke-width="2.2"/>
<text x="1178.5" y="2384" font-size="32" font-weight="normal" text-anchor="middle" fill="#2a2a2a">0.0</text>
<line x1="1286.4" y1="2336.7" x2="1286.4" y2="2352.2" stroke="#555" stroke-width="2.2"/>
<text x="1288.9" y="2384" font-size="32" font-weight="normal" text-anchor="middle" fill="#2a2a2a">0.5</text>
<line x1="1390.9" y1="2336.7" x2="1390.9" y2="2352.2" stroke="#555" stroke-width="2.2"/>
<text x="1395.9" y="2384" font-size="32" font-weight="normal" text-anchor="middle" fill="#2a2a2a">1.0</text>
<line x1="1495.5" y1="2336.7" x2="1495.5" y2="2352.2" stroke="#555" stroke-width="2.2"/>
<text x="1500.8" y="2384" font-size="32" font-weight="normal" text-anchor="middle" fill="#2a2a2a">1.5</text>
<line x1="1599.7" y1="2336.7" x2="1599.7" y2="2352.2" stroke="#555" stroke-width="2.2"/>
<text x="1604.3" y="2384" font-size="32" font-weight="normal" text-anchor="middle" fill="#2a2a2a">2.0</text>
<line x1="1703.6" y1="2336.7" x2="1703.6" y2="2352.2" stroke="#555" stroke-width="2.2"/>
<text x="1708.1999999999998" y="2384" font-size="32" font-weight="normal" text-anchor="middle" fill="#2a2a2a">2.5</text>
<line x1="1807.6" y1="2336.7" x2="1807.6" y2="2352.2" stroke="#555" stroke-width="2.2"/>
<text x="1813.1" y="2384" font-size="32" font-weight="normal" text-anchor="middle" fill="#2a2a2a">3.0</text>
<text x="1523.2" y="1686.2" font-size="45.4" font-weight="normal" text-anchor="middle" fill="#111">Intratumoral TIL</text>
<text x="1171" y="1746.8" font-size="32.4" font-weight="normal" text-anchor="start" fill="#222">Intercept: nd</text>
<text x="1171" y="1791.5" font-size="32.4" font-weight="normal" text-anchor="start" fill="#222">Slope: nd</text>
<line x1="1077" y1="866.5" x2="1077" y2="2374.6" stroke="#000" stroke-width="1.9"/>
<text x="1056.7" y="1652.3" font-size="54.9" font-weight="normal" text-anchor="middle" fill="#111" transform="rotate(-90 1056.7 1652.3)">Mean pathologsit TIL score</text>
<line x1="1124.8" y1="2437.2" x2="1860.3" y2="2437.2" stroke="#000" stroke-width="3.2"/>
<text x="1499.4" y="2497.9" font-size="55.2" font-weight="normal" text-anchor="middle" fill="#111">Mean digital TIL score</text>
</svg>
</body>
</html>
